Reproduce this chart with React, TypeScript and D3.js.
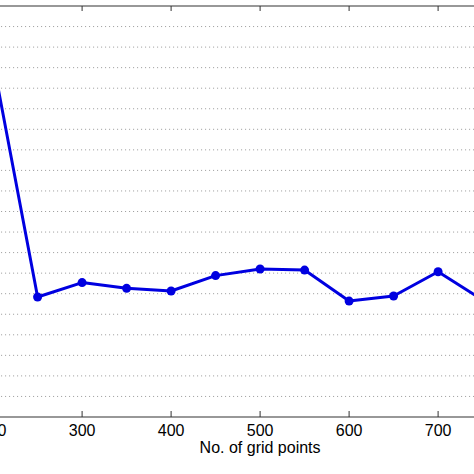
import React from "react";
import * as d3 from "d3";

const gridPoints = [200, 250, 300, 350, 400, 450, 500, 550, 600, 650, 700, 750];
const values = [1.73, 0.584, 0.654, 0.626, 0.613, 0.688, 0.72, 0.715, 0.564, 0.589, 0.707, 0.569];
const xTicks = [200, 300, 400, 500, 600, 700, 800];
const yTicks = d3.range(0, 2.0001, 0.1);

const W = 474;
const H = 474;

export default function App() {
  const x = d3.scaleLinear().domain([200, 800]).range([-6.9, 527.1]);
  const y = d3.scaleLinear().domain([0, 2]).range([417, 6]);
  const line = d3
    .line<number>()
    .x((_, i) => x(gridPoints[i]))
    .y((d) => y(d));
  const left = x(200);
  const right = x(800);
  return (
    <svg
      width={W}
      height={H}
      style={{ position: "absolute", left: 0, top: 0, background: "#fff" }}
      fontFamily="Liberation Sans, Arial, Helvetica, sans-serif"
    >
      <rect x={0} y={0} width={W} height={H} fill="#fff" />
      {yTicks.slice(1, -1).map((t, i) => (
        <line
          key={i}
          x1={left}
          x2={right}
          y1={y(t)}
          y2={y(t)}
          stroke="#999"
          strokeWidth={1}
          strokeDasharray="1,3"
        />
      ))}
      <line x1={left} x2={right} y1={y(2)} y2={y(2)} stroke="#333" strokeWidth={1.2} />
      <line x1={left} x2={right} y1={y(0)} y2={y(0)} stroke="#333" strokeWidth={1.2} />
      {xTicks.map((t) => (
        <g key={t}>
          <line x1={x(t)} x2={x(t)} y1={y(0)} y2={y(0) - 6} stroke="#333" strokeWidth={1} />
          <line x1={x(t)} x2={x(t)} y1={y(2)} y2={y(2) + 5} stroke="#333" strokeWidth={1} />
          <text x={x(t)} y={436} textAnchor="middle" fontSize={16} fill="#000">
            {t}
          </text>
        </g>
      ))}
      <text x={x(500)} y={453} textAnchor="middle" fontSize={16} fill="#000">
        No. of grid points
      </text>
      <path d={line(values) || ""} fill="none" stroke="#0000e0" strokeWidth={3} strokeLinejoin="round" />
      {values.map((v, i) => (
        <circle key={i} cx={x(gridPoints[i])} cy={y(v)} r={4.5} fill="#0000e0" />
      ))}
    </svg>
  );
}
